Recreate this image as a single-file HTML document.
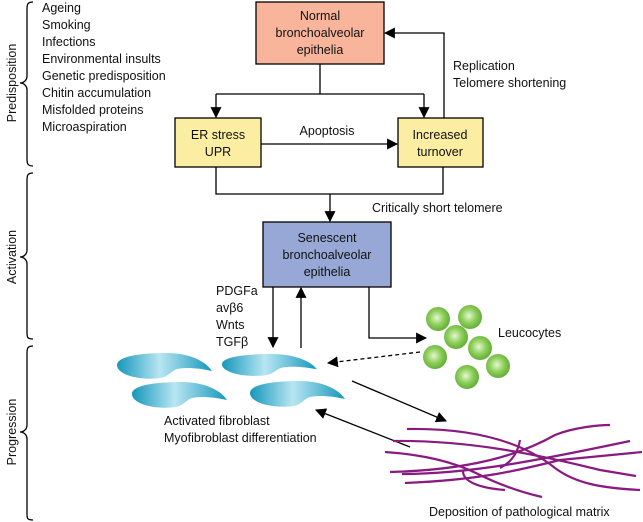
<!DOCTYPE html>
<html><head><meta charset="utf-8"><style>
html,body{margin:0;padding:0;background:#fff;}
svg{display:block;font-family:"Liberation Sans",sans-serif;}
text{font-size:12.5px;fill:#111;}
</style></head><body>
<svg width="643" height="522" viewBox="0 0 643 522" xmlns="http://www.w3.org/2000/svg">
<defs>
<marker id="ah" viewBox="0 0 10 10" refX="9" refY="5" markerWidth="11" markerHeight="11" markerUnits="userSpaceOnUse" orient="auto"><path d="M0,0 L10,5 L0,10 Z" fill="#000"/></marker>
<linearGradient id="fg" x1="0" x2="1" y1="0" y2="0">
<stop offset="0" stop-color="#1597bb"/><stop offset="0.45" stop-color="#b8e6f2"/><stop offset="1" stop-color="#1597bb"/></linearGradient>
<radialGradient id="lg" cx="0.45" cy="0.45" r="0.6"><stop offset="0" stop-color="#e6f7d4"/><stop offset="0.5" stop-color="#8fcf5a"/><stop offset="1" stop-color="#5aa832"/></radialGradient>
<path id="fib" d="M0,12 C0,3 25,0 50,0 C70,0 88,7 95,18 C82,15 68,14 60,16 C54,18 52,23 44,25 C20,28 0,21 0,12 Z" fill="url(#fg)"/>
</defs>
<g fill="none" stroke="#000" stroke-width="1.3">
<path d="M33,2 C27,2 27,5 27,10 L27,76 C27,80 24,83 20,83 C24,83 27,86 27,90 L27,158 C27,163 27,166 33,166"/>
<path d="M33,173 C27,173 27,176 27,181 L27,250 C27,254 24,257 20,257 C24,257 27,260 27,264 L27,332 C27,337 27,339 33,339"/>
<path d="M33,346 C27,346 27,349 27,354 L27,425 C27,429 24,432 20,432 C24,432 27,435 27,439 L27,514 C27,518 27,520 33,520"/>
</g>
<text transform="translate(16,83) rotate(-90)" text-anchor="middle">Predisposition</text>
<text transform="translate(16,257) rotate(-90)" text-anchor="middle">Activation</text>
<text transform="translate(16,432) rotate(-90)" text-anchor="middle">Progression</text>
<g>
<text x="42" y="12">Ageing</text><text x="42" y="29">Smoking</text><text x="42" y="46">Infections</text>
<text x="42" y="63">Environmental insults</text><text x="42" y="80">Genetic predisposition</text>
<text x="42" y="97">Chitin accumulation</text><text x="42" y="114">Misfolded proteins</text><text x="42" y="131">Microaspiration</text>
</g>
<rect x="256" y="2" width="128" height="62" fill="#f9b59b" stroke="#000" stroke-width="1.3"/>
<text x="320" y="20" text-anchor="middle">Normal</text><text x="320" y="37" text-anchor="middle">bronchoalveolar</text><text x="320" y="54" text-anchor="middle">epithelia</text>
<rect x="175" y="118" width="86" height="49" fill="#fbeea2" stroke="#000" stroke-width="1.3"/>
<text x="218" y="139" text-anchor="middle">ER stress</text><text x="218" y="156" text-anchor="middle">UPR</text>
<rect x="398" y="118" width="85" height="49" fill="#fbeea2" stroke="#000" stroke-width="1.3"/>
<text x="440" y="139" text-anchor="middle">Increased</text><text x="440" y="156" text-anchor="middle">turnover</text>
<rect x="263" y="222" width="128" height="65" fill="#98a8d6" stroke="#000" stroke-width="1.3"/>
<text x="327" y="242" text-anchor="middle">Senescent</text><text x="327" y="259" text-anchor="middle">bronchoalveolar</text><text x="327" y="276" text-anchor="middle">epithelia</text>
<g fill="none" stroke="#000" stroke-width="1.3">
<path d="M320,64 V94 M216,94 H424"/>
<path d="M216,94 V117" marker-end="url(#ah)"/>
<path d="M424,94 V117" marker-end="url(#ah)"/>
<path d="M444,118 V33 H385" marker-end="url(#ah)"/>
<path d="M261,144 H397" marker-end="url(#ah)"/>
<path d="M216,167 V194 H443 V167"/>
<path d="M330,194 V221" marker-end="url(#ah)"/>
<path d="M273,287 V347" marker-end="url(#ah)"/>
<path d="M301,348 V288" marker-end="url(#ah)"/>
<path d="M369,287 V338 H426" marker-end="url(#ah)"/>
<path d="M420,352 L328,363" stroke-dasharray="4,3" marker-end="url(#ah)"/>
<path d="M352,381 L446,421" marker-end="url(#ah)"/>
<path d="M410,447 L316,410" marker-end="url(#ah)"/>
</g>
<text x="327" y="135" text-anchor="middle">Apoptosis</text>
<text x="453" y="70">Replication</text><text x="453" y="87">Telomere shortening</text>
<text x="372" y="212">Critically short telomere</text>
<text x="216" y="295">PDGFa</text><text x="216" y="312">avβ6</text><text x="216" y="329">Wnts</text><text x="216" y="346">TGFβ</text>
<use href="#fib" transform="translate(117,353)"/>
<use href="#fib" transform="translate(222,354) scale(1,0.85)"/>
<use href="#fib" transform="translate(132,382)"/>
<use href="#fib" transform="translate(250,381)"/>
<text x="164" y="425">Activated fibroblast</text><text x="164" y="442">Myofibroblast differentiation</text>
<g fill="url(#lg)">
<circle cx="438" cy="319" r="12"/><circle cx="470" cy="317" r="12"/><circle cx="456" cy="337" r="12"/>
<circle cx="480" cy="348" r="12"/><circle cx="435" cy="357" r="12"/><circle cx="498" cy="366" r="12"/><circle cx="467" cy="377" r="12"/>
</g>
<text x="498" y="337">Leucocytes</text>
<g fill="none" stroke="#8a1a80" stroke-width="2.2">
<path d="M407,429 C470,428 520,440 555,468 C575,483 600,488 640,490"/>
<path d="M393,441 C470,440 540,455 600,470 L636,476"/>
<path d="M385,452 C430,455 460,465 478,474 C500,485 520,492 542,497"/>
<path d="M390,472 C470,470 520,455 555,435 C575,427 600,425 610,425"/>
<path d="M402,474 C470,474 540,460 630,441"/>
<path d="M405,483 C480,480 520,470 560,460 L642,452"/>
<path d="M463,470 C462,482 480,488 505,490"/>
<path d="M520,440 C518,452 512,462 500,468"/>
</g>
<text x="429" y="516">Deposition of pathological matrix</text>
</svg>
</body></html>
